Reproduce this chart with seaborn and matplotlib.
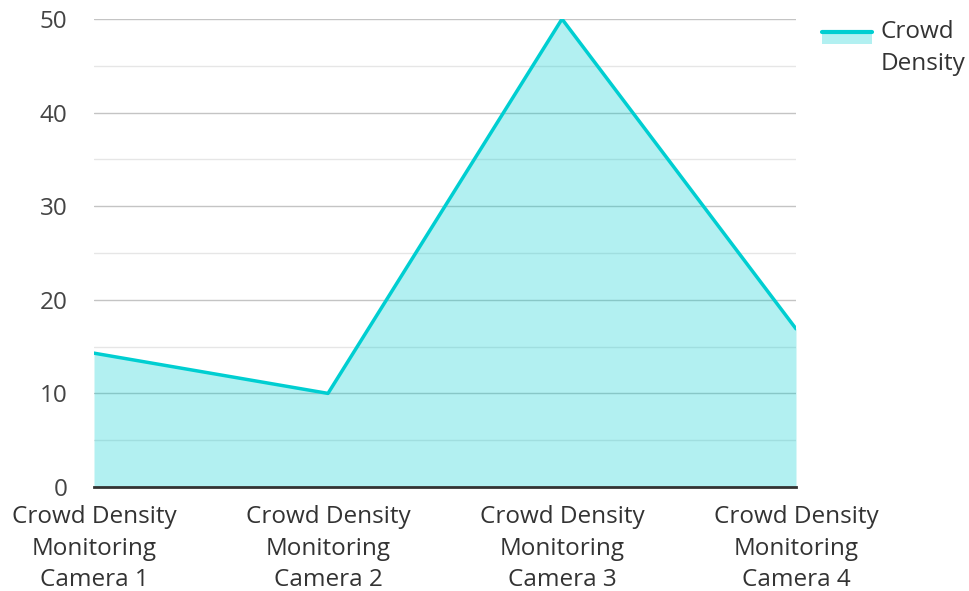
import matplotlib
matplotlib.use("Agg")
import matplotlib.pyplot as plt
import seaborn as sns
import pandas as pd
from matplotlib.lines import Line2D
from matplotlib.patches import Rectangle

categories = ["Crowd Density\nMonitoring\nCamera 1", "Crowd Density\nMonitoring\nCamera 2",
              "Crowd Density\nMonitoring\nCamera 3", "Crowd Density\nMonitoring\nCamera 4"]
values = [14.3, 10.0, 50.0, 16.9]
series_name = "Crowd\nDensity"

sns.set_style("white")
plt.rcParams['font.family'] = ['Open Sans', 'DejaVu Sans']

df = pd.DataFrame({"x": range(len(categories)), "y": values})
color = "#00CED1"
W, H = 970, 591
fs = 17.5

fig = plt.figure(figsize=(9.7, 5.91), dpi=100)
ax = fig.add_axes([94/W, 104/H, (796-94)/W, (487-19)/H])

ax.set_axisbelow(True)
ax.fill_between(df["x"], df["y"], 0, color=color, alpha=0.3, linewidth=0, zorder=1)
sns.lineplot(data=df, x="x", y="y", ax=ax, color=color, linewidth=2.5, zorder=3, legend=False)

ax.set_xlim(0, 3)
ax.set_ylim(0, 50)
ax.set_yticks([0, 10, 20, 30, 40, 50])
ax.set_yticks([5, 15, 25, 35, 45], minor=True)
ax.set_xticks(range(len(categories)))
ax.set_xticklabels(categories)
ax.grid(axis='y', which='major', color='#c4c4c4', linewidth=1)
ax.grid(axis='y', which='minor', color='#e6e6e6', linewidth=1)
for s in ["top", "right", "left"]:
    ax.spines[s].set_visible(False)
ax.spines["bottom"].set_color("#333333")
ax.spines["bottom"].set_linewidth(2)
ax.spines["bottom"].set_zorder(4)
ax.tick_params(axis='both', which='both', length=0, labelsize=fs, colors='#444444')
ax.tick_params(axis='x', pad=13, labelcolor='#333333')
ax.tick_params(axis='y', pad=19)
for lbl in ax.get_xticklabels():
    lbl.set_linespacing(1.42)
ax.set_xlabel("")
ax.set_ylabel("")

# legend drawn in figure pixel coordinates
fig.add_artist(Rectangle((822/W, 1 - 44/H), 50/W, 12/H, transform=fig.transFigure,
                         facecolor=color, alpha=0.3, edgecolor='none'))
fig.add_artist(Line2D([822/W, 872/W], [1 - 32/H, 1 - 32/H], transform=fig.transFigure,
                      color=color, linewidth=3))
fig.text(881/W, 1 - 20/H, series_name, ha='left', va='top', fontsize=fs,
         color='#333333', linespacing=1.42)

fig.savefig("out.png", dpi=100)
